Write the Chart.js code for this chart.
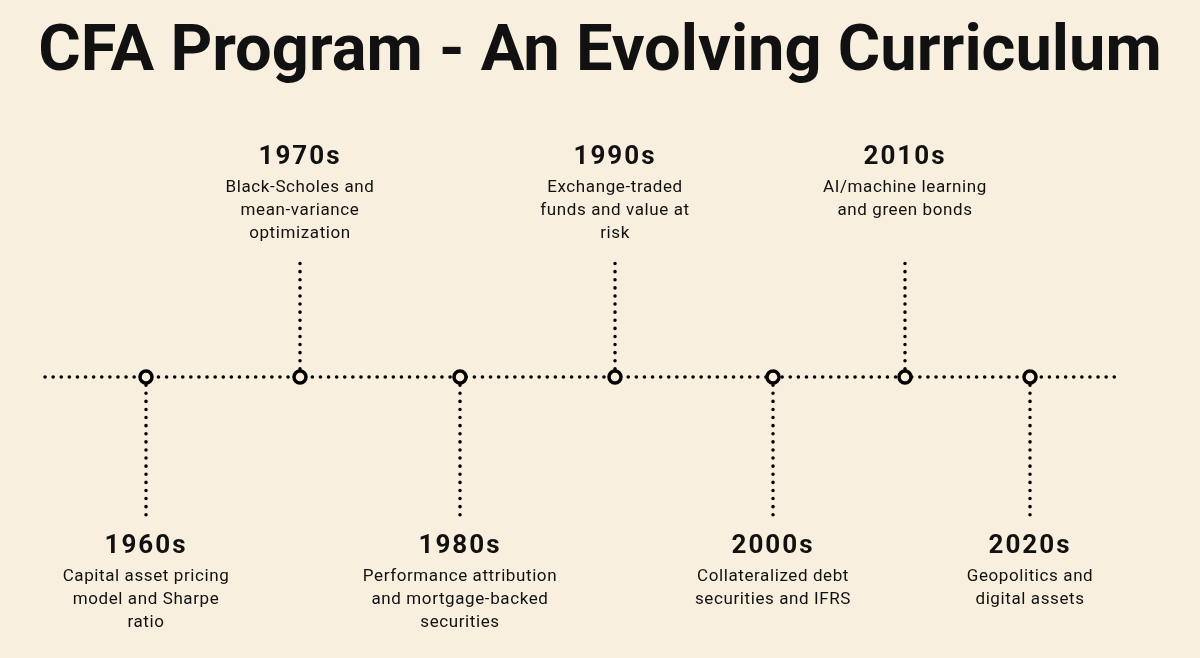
<!DOCTYPE html>
<html><head><meta charset="utf-8">
<script src="https://cdn.jsdelivr.net/npm/chart.js@4/dist/chart.umd.min.js"></script>
<style>html,body{margin:0;padding:0;background:#f9efdf;}#wrap{width:1200px;height:658px;}</style>
</head><body><div id="wrap"><canvas id="c"></canvas></div>
<script>
const chartTitle = "CFA Program - An Evolving Curriculum";
const decades = ["1960s","1970s","1980s","1990s","2000s","2010s","2020s"];
const positions = [146,300,460,615,773,905,1030];
const sides = ["below","above","below","above","below","above","below"];
const descriptions = [
  ["Capital asset pricing","model and Sharpe","ratio"],
  ["Black-Scholes and","mean-variance","optimization"],
  ["Performance attribution","and mortgage-backed","securities"],
  ["Exchange-traded","funds and value at","risk"],
  ["Collateralized debt","securities and IFRS"],
  ["AI/machine learning","and green bonds"],
  ["Geopolitics and","digital assets"]
];
const timelineStart = 45, timelineEnd = 1120, lineY = 377, stemTop = 258, stemBottom = 520;

const ds = [];
ds.push({type:'line',data:[{x:timelineStart,y:lineY},{x:timelineEnd,y:lineY}],borderColor:'#000',borderWidth:3.5,borderDash:[0.1,8],borderCapStyle:'round',pointRadius:0,order:3});
positions.forEach((p,i)=>{
  const end = sides[i]==="above"?stemTop:stemBottom;
  ds.push({type:'line',data:[{x:p,y:lineY},{x:p,y:end}],borderColor:'#000',borderWidth:3.5,borderDash:[0.1,8],borderCapStyle:'round',pointRadius:0,order:2});
});
ds.push({type:'scatter',data:positions.map(p=>({x:p,y:lineY})),pointRadius:6,pointBackgroundColor:'#f9efdf',pointBorderColor:'#000',pointBorderWidth:3.5,order:1});

const textPlugin = {id:'texts',afterDraw(ch){
  const c=ch.ctx, xs=ch.scales.x, ys=ch.scales.y;
  c.save(); c.fillStyle='#111'; c.textAlign='center'; c.textBaseline='middle';
  c.font='bold 65px Roboto'; c.fillText(chartTitle, 600, 54);
  positions.forEach((p,i)=>{
    const x=xs.getPixelForValue(p);
    const t = sides[i]==="above"?157:546;
    c.font='bold 26px Roboto'; c.letterSpacing='2px';
    c.fillText(decades[i], x, ys.getPixelForValue(t));
    c.font='17px Roboto'; c.letterSpacing='0.6px';
    descriptions[i].forEach((l,j)=>c.fillText(l, x, ys.getPixelForValue(t+31+j*23)));
  });
  c.restore();
}};
const bg={id:'bg',beforeDraw(ch){const c=ch.ctx;c.save();c.fillStyle='#f9efdf';c.fillRect(0,0,ch.width,ch.height);c.restore();}};

new Chart(document.getElementById('c'),{
  data:{datasets:ds},
  options:{responsive:true,maintainAspectRatio:false,animation:false,
    layout:{padding:0,autoPadding:false},
    plugins:{legend:{display:false},tooltip:{enabled:false}},
    scales:{x:{type:'linear',min:0,max:1200,display:false},y:{type:'linear',min:0,max:658,reverse:true,display:false}}},
  plugins:[bg,textPlugin]
});
</script></body></html>
